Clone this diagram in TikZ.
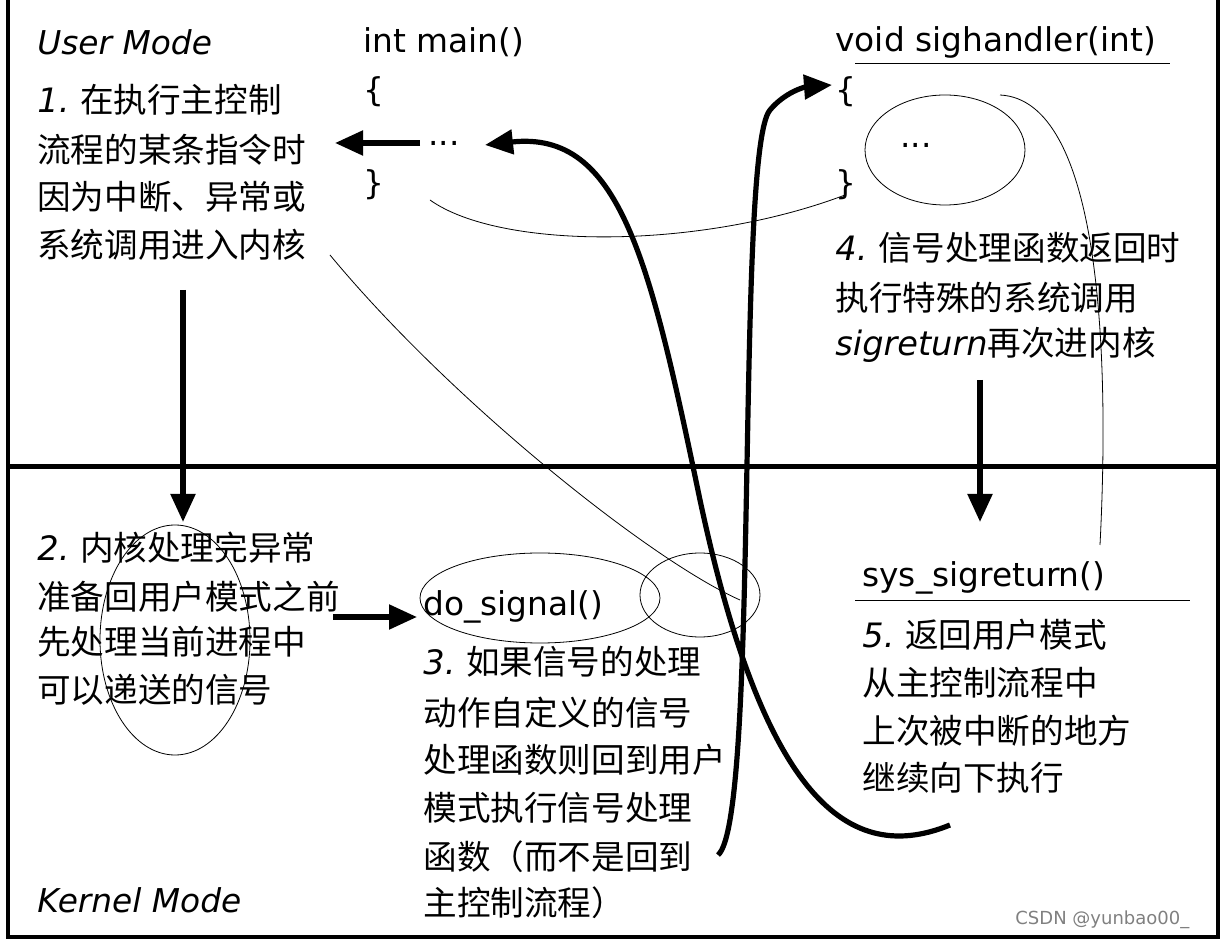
\documentclass[tikz,border=0pt]{standalone}
\usepackage{fontspec}
\setmainfont{DejaVu Sans}
\newfontfamily\cjk{Noto Sans CJK SC}
\usetikzlibrary{arrows.meta}
\begin{document}
\begin{tikzpicture}[x=0.5pt,y=-0.5pt,
  txt/.style={anchor=west,inner sep=0pt,font=\fontsize{16.4}{18}\selectfont},
  ctxt/.style={anchor=west,inner sep=0pt,font=\cjk\fontsize{16.8}{18}\selectfont},
  big/.style={line width=2.6pt,-{Triangle[length=14pt,width=12pt]}},
  thin/.style={line width=0.4pt}]
\useasboundingbox (0,0) rectangle (1222,940);
\draw[line width=1.6pt] (8,-5) rectangle (1218,937);
\draw[line width=2.5pt] (8,467) -- (1218,467);
% user mode
\node[txt] (um) at (37,42) {\itshape User Mode};
\node[ctxt] (l1) at (37,100) {\itshape\fontspec{DejaVu Sans}1.\ \normalfont\cjk 在执行主控制};
\node[ctxt] (l2) at (37,150) {流程的某条指令时};
\node[ctxt] (l3) at (37,197) {因为中断、异常或};
\node[ctxt] (l4) at (37,245) {系统调用进入内核};
\node[txt] (im) at (363,42) {int main()};
\node[txt] (b1) at (363,92) {\{};
\node[txt] (d1) at (428,143) {...};
\node[txt] (b2) at (363,185) {\}};
\node[txt] (vs) at (835,42) {void sighandler(int)};
\draw[thin] (855,63) -- (1170,63);
\node[txt] (b3) at (835,92) {\{};
\node[txt] (d2) at (900,145) {...};
\node[txt] (b4) at (835,185) {\}};
\node[ctxt] (r1) at (835,248) {\itshape\fontspec{DejaVu Sans}4.\ \normalfont\cjk 信号处理函数返回时};
\node[ctxt] (r2) at (835,298) {执行特殊的系统调用};
\node[ctxt] (r3) at (835,345) {\fontspec{DejaVu Sans}\itshape sigreturn\normalfont\cjk 再次进内核};
% kernel mode
\node[ctxt] (k1) at (37,548) {\itshape\fontspec{DejaVu Sans}2.\ \normalfont\cjk 内核处理完异常};
\node[ctxt] (k2) at (37,597) {准备回用户模式之前};
\node[ctxt] (k3) at (37,642) {先处理当前进程中};
\node[ctxt] (k4) at (37,690) {可以递送的信号};
\node[txt] (ds) at (423,607) {do\_signal()};
\node[ctxt] (m1) at (423,662) {\itshape\fontspec{DejaVu Sans}3.\ \normalfont\cjk 如果信号的处理};
\node[ctxt] (m2) at (423,713) {动作自定义的信号};
\node[ctxt] (m3) at (423,760) {处理函数则回到用户};
\node[ctxt] (m4) at (423,808) {模式执行信号处理};
\node[ctxt] (m5) at (423,857) {函数（而不是回到};
\node[ctxt] (m6) at (423,903) {主控制流程）};
\node[txt] (ss) at (862,578) {sys\_sigreturn()};
\draw[thin] (855,600) -- (1190,600);
\node[ctxt] (s1) at (862,635) {\itshape\fontspec{DejaVu Sans}5.\ \normalfont\cjk 返回用户模式};
\node[ctxt] (s2) at (862,683) {从主控制流程中};
\node[ctxt] (s3) at (862,731) {上次被中断的地方};
\node[ctxt] (s4) at (862,778) {继续向下执行};
\node[txt] (km) at (37,900) {\itshape Kernel Mode};
\node[anchor=west,inner sep=0pt,text=gray,font=\fontsize{9}{10}\selectfont] (wm) at (1015,920) {CSDN @yunbao00\_};
% arrows
\coordinate (a1s) at (183,290); \coordinate (a1e) at (183,522);
\draw[big] (a1s) -- (a1e);
\coordinate (a2s) at (980,380); \coordinate (a2e) at (980,522);
\draw[big] (a2s) -- (a2e);
\coordinate (a3s) at (333,617); \coordinate (a3e) at (417,617);
\draw[big] (a3s) -- (a3e);
\coordinate (a4s) at (420,143); \coordinate (a4e) at (335,143);
\draw[big] (a4s) -- (a4e);
\coordinate (c1s) at (718,855); \coordinate (c1e) at (832,85);
\draw[big] (c1s) .. controls (760,820) and (735,150) .. (770,110) .. controls (785,92) and (805,87) .. (c1e);
\coordinate (c2s) at (950,825); \coordinate (c2e) at (485,145);
\draw[big] (c2s) .. controls (840,870) and (760,780) .. (700,500) .. controls (650,260) and (620,130) .. (c2e);
% scribbles
\draw[thin] (540,598) ellipse (120 and 45);
\draw[thin] (700,595) ellipse (60 and 42);
\draw[thin] (945,150) ellipse (80 and 55);
\draw[thin] (175,640) ellipse (75 and 115);
\draw[thin] (845,195) .. controls (700,250) and (500,250) .. (430,200);
\draw[thin] (330,255) .. controls (450,400) and (650,560) .. (740,600);
\draw[thin] (1000,95) .. controls (1100,100) and (1110,350) .. (1100,545);
\end{tikzpicture}
\end{document}
